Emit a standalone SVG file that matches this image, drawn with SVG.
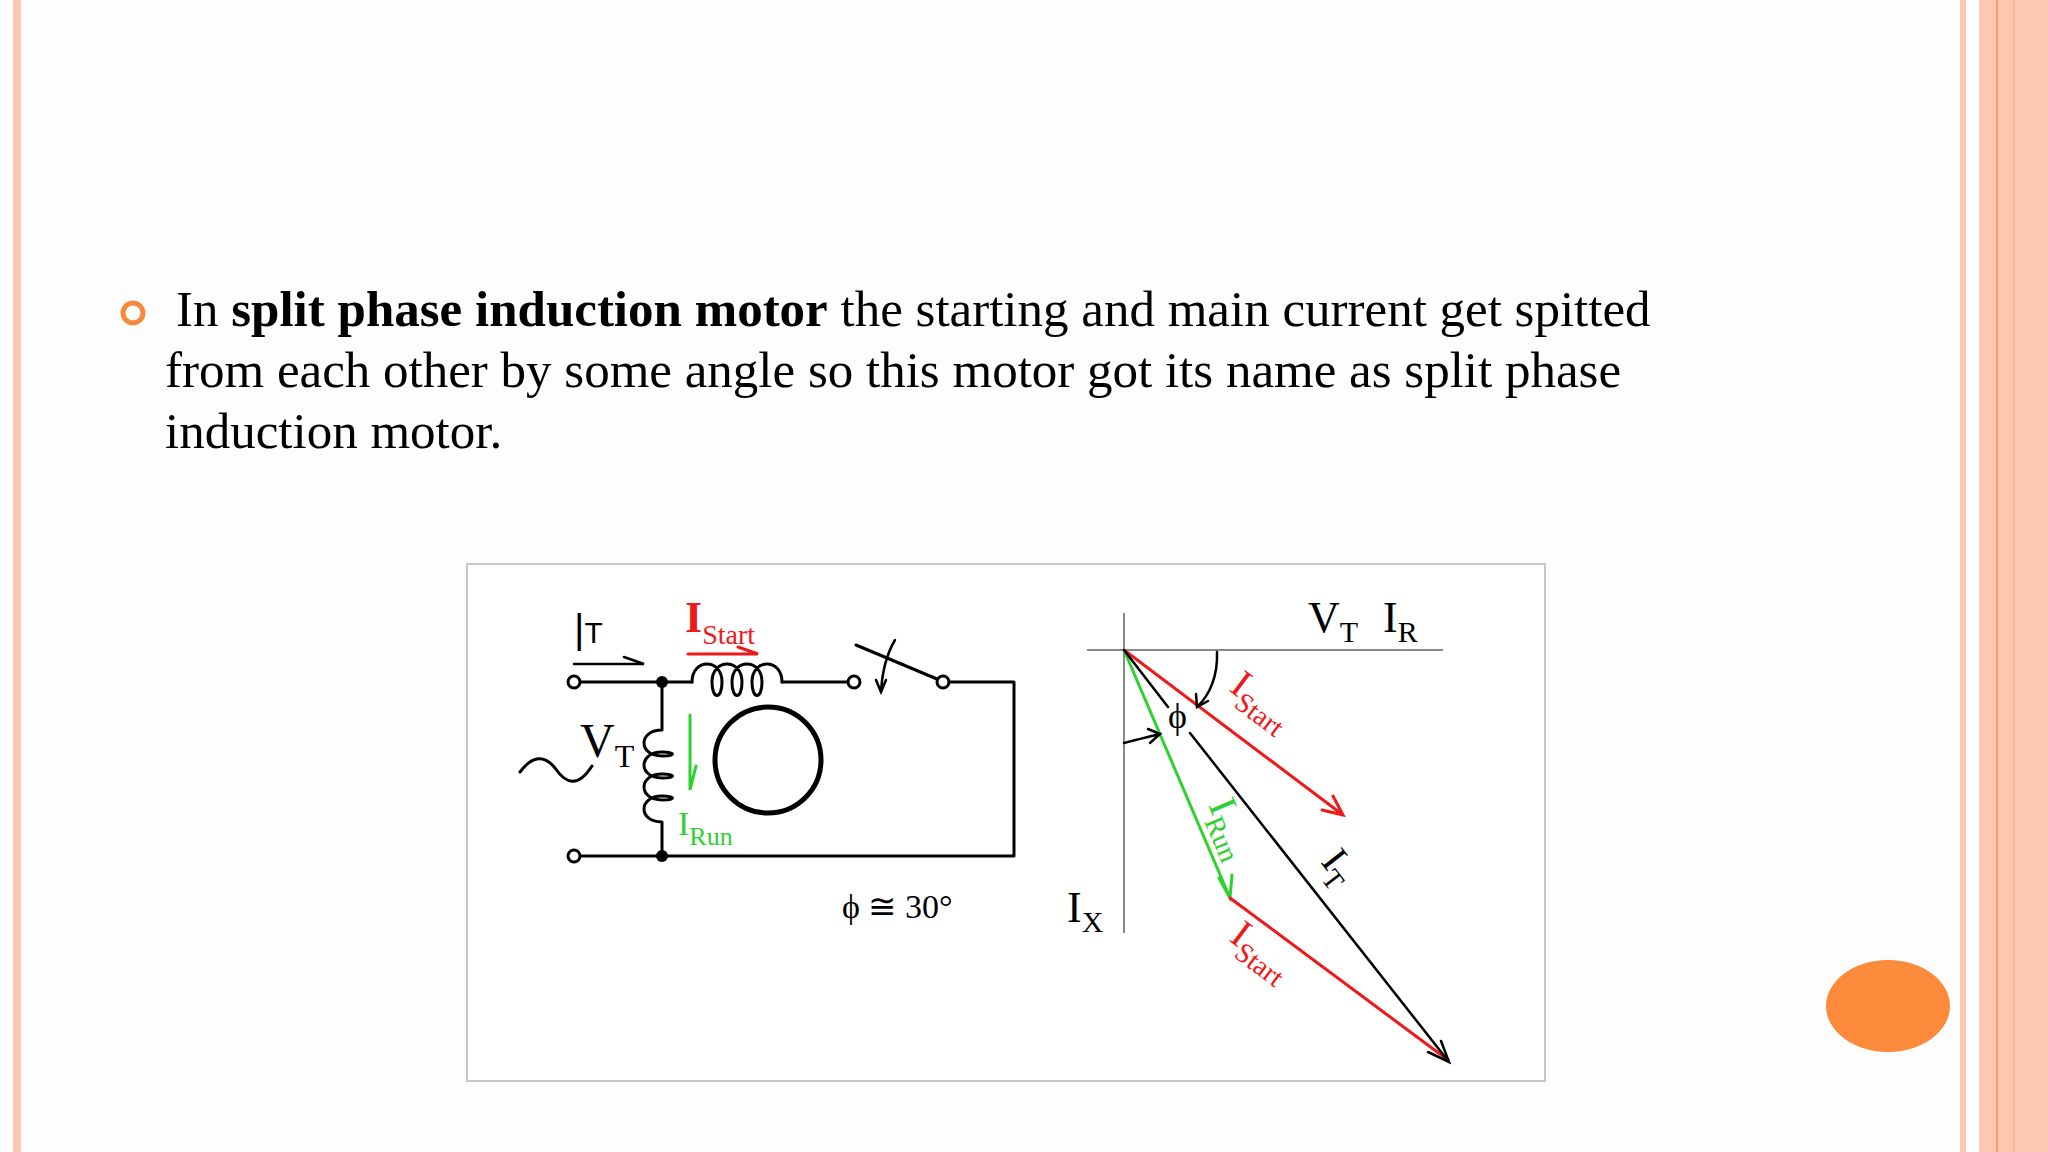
<svg xmlns="http://www.w3.org/2000/svg" width="2048" height="1152" viewBox="0 0 2048 1152">
<style>
.w{fill:none;stroke:#000;stroke-width:3;stroke-linecap:round;stroke-linejoin:round}
.r{fill:none;stroke:#f01818;stroke-width:3;stroke-linecap:round}
.g{fill:none;stroke:#2ed12e;stroke-width:3;stroke-linecap:round}
.k{fill:none;stroke:#000;stroke-width:2.5;stroke-linecap:round}
.ax{fill:none;stroke:#888;stroke-width:2}
.s{font-family:"Liberation Serif",serif}
.t{fill:#fff;stroke:#000;stroke-width:3}
</style>
<rect width="2048" height="1152" fill="#fdfdfd"/>
<rect x="13" y="0" width="8" height="1152" fill="#fbc6b3"/>
<rect x="1960" y="0" width="6" height="1152" fill="#fbc6b3"/>
<rect x="1979" y="0" width="69" height="1152" fill="#fcc8b0"/>
<rect x="1996" y="0" width="2" height="1152" fill="#f5a070"/>
<rect x="2013" y="0" width="2" height="1152" fill="#f9b898"/>
<ellipse cx="1888" cy="1006" rx="62" ry="46" fill="#fb8a3a"/>
<circle cx="133" cy="313" r="10" fill="none" stroke="#f58a3c" stroke-width="5"/>
<g id="text" class="s" font-size="51" fill="#000">
<text x="176" y="326">In <tspan font-weight="bold">split phase induction motor</tspan> the starting and main current get spitted</text>
<text x="165" y="387">from each other by some angle so this motor got its name as split phase</text>
<text x="165" y="448">induction motor.</text>
</g>
<rect x="467" y="564" width="1078" height="517" fill="#fff" stroke="#c8c8c8" stroke-width="2"/>
<g id="circuit">
<path class="w" d="M580,682H692 M782,682H848 M949,682H1014V856H580"/>
<path class="w" d="M692,682c0,-24 30,-24 30,0c0,18 -10,18 -10,0c0,-24 30,-24 30,0c0,18 -10,18 -10,0c0,-24 30,-24 30,0c0,18 -10,18 -10,0c0,-24 30,-24 30,0"/>
<path class="w" d="M662,682V730c-24,0 -24,26 0,26c14,0 14,-4 0,-4c-24,0 -24,26 0,26c14,0 14,-4 0,-4c-24,0 -24,26 0,26c14,0 14,-4 0,-4c-24,0 -24,26 0,26V856"/>
<circle cx="662" cy="682" r="6"/>
<circle cx="662" cy="856" r="6"/>
<circle class="t" cx="574" cy="682" r="6"/>
<circle class="t" cx="574" cy="856" r="6"/>
<circle class="t" cx="854" cy="682" r="6"/>
<circle class="t" cx="943" cy="682" r="6"/>
<path class="w" d="M856,645L937,679"/>
<path class="k" d="M895,640C886,655 882,675 881,692M876,680L881,692L886,680"/>
<circle cx="768" cy="760" r="53" fill="none" stroke="#000" stroke-width="5"/>
<path class="w" d="M520,772C532,756 544,754 555,768C566,784 578,788 592,766" stroke-width="5"/>
<path class="k" d="M574,664H644L624,657"/>
<path class="r" d="M688,654H758L738,647"/>
<path class="g" d="M690,715V790L696,766"/>
<text x="574" y="643" font-family="Liberation Sans,sans-serif" font-size="40">|<tspan font-size="30" dy="0">T</tspan></text>
<text x="685" y="632" class="s" font-size="44" fill="#f01818" font-weight="bold">I<tspan font-size="28" font-weight="normal" dy="12">Start</tspan></text>
<text x="580" y="757" class="s" font-size="48">V<tspan font-size="32" dy="10">T</tspan></text>
<text x="678" y="835" class="s" font-size="34" fill="#2ed12e">I<tspan font-size="26" dy="10">Run</tspan></text>
<text x="842" y="918" class="s" font-size="34">ϕ ≅ 30°</text>
</g>
<g id="phasor">
<path class="ax" d="M1087,650H1443M1124,613V933"/>
<path class="r" d="M1124,650L1343,815M1322,810L1343,815L1333,796"/>
<path class="g" d="M1124,650L1230,898M1219,878L1230,898L1232,875"/>
<path class="r" d="M1230,898L1448,1060"/>
<path class="k" d="M1124,650L1168,707M1190,733L1449,1062M1428,1052L1449,1062L1441,1041"/>
<path class="k" d="M1217,652C1218,675 1210,695 1197,707M1196,694L1197,707L1208,701"/>
<path class="k" d="M1124,743C1135,740 1148,737 1160,734M1148,729L1160,734L1150,743"/>
<text x="1168" y="728" class="s" font-size="36">ϕ</text>
<text x="1308" y="632" class="s" font-size="44">V<tspan font-size="30" dy="10">T</tspan></text>
<text x="1383" y="632" class="s" font-size="44">I<tspan font-size="30" dy="10">R</tspan></text>
<text x="1067" y="922" class="s" font-size="44">I<tspan font-size="30" dy="10">X</tspan></text>
<text transform="translate(1228,690) rotate(37)" class="s" font-size="40" fill="#f01818">I<tspan font-size="28" dy="10">Start</tspan></text>
<text transform="translate(1228,940) rotate(37)" class="s" font-size="40" fill="#f01818">I<tspan font-size="28" dy="10">Start</tspan></text>
<text transform="translate(1208,805) rotate(67)" class="s" font-size="40" fill="#2ed12e">I<tspan font-size="28" dy="10">Run</tspan></text>
<text transform="translate(1320,862) rotate(52)" class="s" font-size="40">I<tspan font-size="28" dy="10">T</tspan></text>
</g>
</svg>
